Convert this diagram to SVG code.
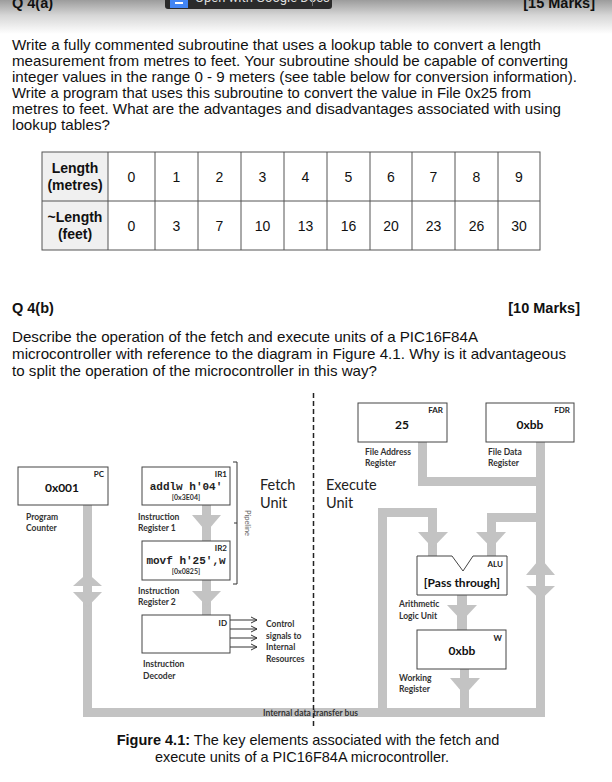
<svg xmlns="http://www.w3.org/2000/svg" width="612" height="782" viewBox="0 0 612 782">
<defs>
<linearGradient id="shade" x1="0" y1="0" x2="0" y2="1">
<stop offset="0" stop-color="#9c9c9c"/>
<stop offset="0.45" stop-color="#d6d6d6"/>
<stop offset="1" stop-color="#ffffff"/>
</linearGradient>
<marker id="chev" markerWidth="8" markerHeight="8" refX="7" refY="4" orient="auto" markerUnits="userSpaceOnUse">
<polyline points="1,1 7,4 1,7" fill="none" stroke="#333" stroke-width="1"/>
</marker>
<style>
.body{font-family:"Liberation Sans",Arial,sans-serif;font-size:14.5px;fill:#111}
.bold{font-weight:bold}
.tbl{font-family:"Liberation Sans",Arial,sans-serif;font-size:14px;fill:#111;text-anchor:middle}
.cell{fill:none;stroke:#555;stroke-width:1}
.box{fill:#fff;stroke:#444;stroke-width:1}
.tag{font-family:Lato,"Open Sans",sans-serif;font-size:8px;font-weight:bold;fill:#222;text-anchor:end}
.lbl{font-family:Lato,"Open Sans",sans-serif;font-size:8.5px;font-weight:bold;fill:#333}
.val{font-family:Lato,"Open Sans",sans-serif;font-size:12px;font-weight:bold;fill:#111;text-anchor:middle}
.mono{font-family:"Liberation Mono","Courier New",monospace;font-size:11px;font-weight:bold;fill:#222;text-anchor:middle}
.hex{font-family:Lato,"Open Sans",sans-serif;font-size:7px;font-weight:bold;fill:#333;text-anchor:middle}
.unit{font-family:Lato,"Open Sans",sans-serif;font-size:14.5px;fill:#222}
.bus{fill:#c3c3c3}
.ctl{stroke:#333;stroke-width:1;fill:none}
</style>
</defs>
<rect x="0" y="0" width="612" height="782" fill="#fff"/>
<rect x="0" y="0" width="612" height="34" fill="url(#shade)"/>
<g id="header">
<text x="12" y="8" class="body bold" font-size="15">Q 4(a)</text>
<text x="595" y="8" class="body bold" font-size="15" text-anchor="end">[15 Marks]</text>
<rect x="165" y="-10" width="167" height="19" rx="3" fill="#2b2b2b"/>
<rect x="170" y="-6" width="18" height="14" fill="#4285f4"/>
<rect x="175" y="2" width="8" height="2" fill="#fff"/>
<text x="195" y="2" font-family="Roboto,sans-serif" font-size="13" fill="#ddd">Open with Google Docs</text>
<line x1="312.5" y1="0" x2="312.5" y2="6" stroke="#777" stroke-width="1"/>
</g>
<g id="question-a">
<text x="12" y="50" class="body" textLength="529" lengthAdjust="spacingAndGlyphs">Write a fully commented subroutine that uses a lookup table to convert a length</text>
<text x="12" y="66" class="body" textLength="556" lengthAdjust="spacingAndGlyphs">measurement from metres to feet. Your subroutine should be capable of converting</text>
<text x="12" y="82" class="body" textLength="565" lengthAdjust="spacingAndGlyphs">integer values in the range 0 - 9 meters (see table below for conversion information).</text>
<text x="12" y="98" class="body" textLength="519" lengthAdjust="spacingAndGlyphs">Write a program that uses this subroutine to convert the value in File 0x25 from</text>
<text x="12" y="114" class="body" textLength="549" lengthAdjust="spacingAndGlyphs">metres to feet. What are the advantages and disadvantages associated with using</text>
<text x="12" y="130" class="body" textLength="98" lengthAdjust="spacingAndGlyphs">lookup tables?</text>
</g>
<g id="table">
<rect x="42" y="152" width="66" height="98" fill="#f0f0f0"/>
<rect x="42" y="152" width="498" height="98" class="cell"/>
<line x1="42" y1="201" x2="540" y2="201" class="cell"/>
<g class="cell">
<line x1="108" y1="152" x2="108" y2="250"/><line x1="155" y1="152" x2="155" y2="250"/>
<line x1="198" y1="152" x2="198" y2="250"/><line x1="241" y1="152" x2="241" y2="250"/>
<line x1="284" y1="152" x2="284" y2="250"/><line x1="327" y1="152" x2="327" y2="250"/>
<line x1="370" y1="152" x2="370" y2="250"/><line x1="412" y1="152" x2="412" y2="250"/>
<line x1="455" y1="152" x2="455" y2="250"/><line x1="498" y1="152" x2="498" y2="250"/>
</g>
<text x="75" y="173" class="tbl bold">Length</text>
<text x="75" y="190" class="tbl bold">(metres)</text>
<text x="75" y="222" class="tbl bold">~Length</text>
<text x="75" y="239" class="tbl bold">(feet)</text>
<g class="tbl">
<text x="131.5" y="181.5">0</text><text x="176.5" y="181.5">1</text><text x="219.5" y="181.5">2</text>
<text x="262.5" y="181.5">3</text><text x="305.5" y="181.5">4</text><text x="348.5" y="181.5">5</text>
<text x="391" y="181.5">6</text><text x="433.5" y="181.5">7</text><text x="476.5" y="181.5">8</text>
<text x="519" y="181.5">9</text>
<text x="131.5" y="230.5">0</text><text x="176.5" y="230.5">3</text><text x="219.5" y="230.5">7</text>
<text x="262.5" y="230.5">10</text><text x="305.5" y="230.5">13</text><text x="348.5" y="230.5">16</text>
<text x="391" y="230.5">20</text><text x="433.5" y="230.5">23</text><text x="476.5" y="230.5">26</text>
<text x="519" y="230.5">30</text>
</g>
</g>
<g id="question-b">
<text x="12" y="313" class="body bold" font-size="15">Q 4(b)</text>
<text x="580" y="313" class="body bold" font-size="15" text-anchor="end">[10 Marks]</text>
<text x="12" y="342" class="body" textLength="466" lengthAdjust="spacingAndGlyphs">Describe the operation of the fetch and execute units of a PIC16F84A</text>
<text x="12" y="359" class="body" textLength="554" lengthAdjust="spacingAndGlyphs">microcontroller with reference to the diagram in Figure 4.1. Why is it advantageous</text>
<text x="12" y="376" class="body" textLength="365" lengthAdjust="spacingAndGlyphs">to split the operation of the microcontroller in this way?</text>
</g>
<g id="connectors">
<rect x="83" y="505" width="9" height="212" class="bus"/>
<rect x="83" y="708" width="462" height="9" class="bus"/>
<polygon points="87.5,573 73,586 102,586" class="bus"/>
<polygon points="73,592 102,592 87.5,607" class="bus"/>
<rect x="202" y="505" width="9" height="36" class="bus"/>
<polygon points="192,515 221,515 206.5,532" class="bus"/>
<rect x="202" y="580" width="9" height="35" class="bus"/>
<polygon points="192,591 221,591 206.5,606" class="bus"/>
<rect x="418" y="442" width="9" height="44" class="bus"/>
<rect x="418" y="477" width="127" height="9" class="bus"/>
<rect x="536" y="442" width="9" height="275" class="bus"/>
<polygon points="540.5,558 526,575 555,575" class="bus"/>
<polygon points="526,586 555,586 540.5,600" class="bus"/>
<rect x="378" y="508" width="9" height="209" class="bus"/>
<rect x="378" y="508" width="59" height="9" class="bus"/>
<rect x="428" y="508" width="9" height="48" class="bus"/>
<polygon points="418,532 448,532 432.5,548" class="bus"/>
<rect x="487" y="513" width="58" height="9" class="bus"/>
<rect x="487" y="513" width="9" height="43" class="bus"/>
<polygon points="476,532 506,532 491.5,548" class="bus"/>
<rect x="457" y="595" width="10" height="35" class="bus"/>
<polygon points="447,605 477,605 462,621" class="bus"/>
<rect x="460" y="669" width="9" height="41" class="bus"/>
<polygon points="450,678 480,678 464.5,695" class="bus"/>
<line x1="230" y1="620" x2="257" y2="620" class="ctl" marker-end="url(#chev)"/>
<line x1="230" y1="629" x2="257" y2="629" class="ctl" marker-end="url(#chev)"/>
<line x1="230" y1="638" x2="257" y2="638" class="ctl" marker-end="url(#chev)"/>
<line x1="230" y1="647" x2="257" y2="647" class="ctl" marker-end="url(#chev)"/>
<text x="263" y="716" class="lbl" font-size="8.8">Internal data transfer bus</text>
</g>
<g id="divider">
<line x1="313.5" y1="393" x2="313.5" y2="728" stroke="#222" stroke-width="1.5" stroke-dasharray="5 3"/>
<text x="260" y="490" class="unit">Fetch</text>
<text x="260" y="508" class="unit">Unit</text>
<text x="326" y="490" class="unit">Execute</text>
<text x="326" y="508" class="unit">Unit</text>
</g>
<g id="pipeline">
<path d="M233,462 H237 V584 H233 M237,523 H234" fill="none" stroke="#333" stroke-width="1"/>
<text transform="translate(245,523) rotate(90)" text-anchor="middle" font-family="Lato,sans-serif" font-size="7.5" fill="#666">Pipeline</text>
</g>
<g id="pc">
<rect x="18" y="467" width="90" height="38" class="box"/>
<text x="104" y="477" class="tag">PC</text>
<text x="62" y="492" class="val">0x001</text>
<text x="26" y="520" class="lbl">Program</text>
<text x="26" y="531" class="lbl">Counter</text>
</g>
<g id="ir1">
<rect x="142" y="467" width="88" height="38" class="box"/>
<text x="227" y="477" class="tag">IR1</text>
<text x="186" y="490" class="mono">addlw h'04'</text>
<text x="186" y="500" class="hex">[0x3E04]</text>
<text x="138" y="520" class="lbl">Instruction</text>
<text x="138" y="531" class="lbl">Register 1</text>
</g>
<g id="ir2">
<rect x="142" y="541" width="88" height="39" class="box"/>
<text x="227" y="551" class="tag">IR2</text>
<text x="186" y="564" class="mono">movf h'25',w</text>
<text x="186" y="574" class="hex">[0x0825]</text>
<text x="138" y="594" class="lbl">Instruction</text>
<text x="138" y="605" class="lbl">Register 2</text>
</g>
<g id="id">
<rect x="142" y="615" width="88" height="38" class="box"/>
<text x="227" y="626" class="tag">ID</text>
<text x="143" y="667" class="lbl">Instruction</text>
<text x="143" y="679" class="lbl">Decoder</text>
<text x="266" y="627" class="lbl">Control</text>
<text x="266" y="639" class="lbl">signals to</text>
<text x="266" y="650" class="lbl">Internal</text>
<text x="266" y="662" class="lbl">Resources</text>
</g>
<g id="far">
<rect x="358" y="403" width="89" height="39" class="box"/>
<text x="443" y="413" class="tag">FAR</text>
<text x="402" y="429" class="val">25</text>
<text x="365" y="455" class="lbl">File Address</text>
<text x="365" y="466" class="lbl">Register</text>
</g>
<g id="fdr">
<rect x="486" y="403" width="88" height="39" class="box"/>
<text x="570" y="413" class="tag">FDR</text>
<text x="530" y="429" class="val">0xbb</text>
<text x="488" y="455" class="lbl">File Data</text>
<text x="488" y="466" class="lbl">Register</text>
</g>
<g id="alu">
<path d="M417,556 H452 L463,571 L473,556 H507 V595 H417 Z" class="box"/>
<text x="503" y="567" class="tag">ALU</text>
<text x="462" y="587" class="val" font-size="12.5">[Pass through]</text>
<text x="399" y="607" class="lbl">Arithmetic</text>
<text x="399" y="619" class="lbl">Logic Unit</text>
</g>
<g id="w">
<rect x="417" y="630" width="89" height="39" class="box"/>
<text x="502" y="641" class="tag">W</text>
<text x="462" y="655" class="val">0xbb</text>
<text x="399" y="681" class="lbl">Working</text>
<text x="399" y="692" class="lbl">Register</text>
</g>
<g id="caption">
<text x="308" y="745" class="body" font-size="14" text-anchor="middle"><tspan font-weight="bold">Figure 4.1:</tspan> The key elements associated with the fetch and</text>
<text x="302" y="762" class="body" font-size="14" text-anchor="middle">execute units of a PIC16F84A microcontroller.</text>
</g>
</svg>
